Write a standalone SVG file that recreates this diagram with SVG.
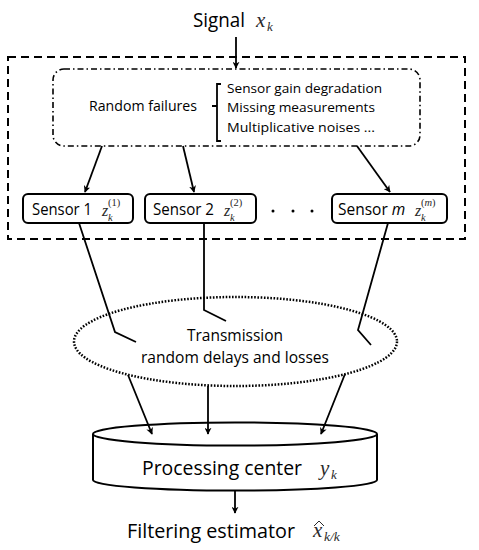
<svg xmlns="http://www.w3.org/2000/svg" width="479" height="550" viewBox="0 0 479 550">
<defs>
<marker id="ah" viewBox="0 0 10 10" refX="9" refY="5" markerWidth="7" markerHeight="7" orient="auto" markerUnits="userSpaceOnUse">
<path d="M0,0 L10,5 L0,10 L3,5 Z" fill="#000"/>
</marker>
<style>
.t{font-family:"Open Sans","Liberation Sans",sans-serif;fill:#000}
.m{font-family:"Liberation Serif","DejaVu Serif",serif;font-style:italic;fill:#2a2a2a}
.mu{font-family:"Liberation Serif","DejaVu Serif",serif;fill:#2a2a2a}
.ln{fill:none;stroke:#000;stroke-width:1.8}
.box{fill:#fff;stroke:#000;stroke-width:2}
</style>
</defs>
<rect width="479" height="550" fill="#fff"/>

<g id="signal">
<text class="t" x="193" y="27" font-size="20" textLength="52" lengthAdjust="spacingAndGlyphs">Signal</text>
<text class="m" x="256" y="27" font-size="21">x</text>
<text class="m" x="267" y="31" font-size="13">k</text>
</g>

<g id="sensor-group">
<rect x="8" y="57" width="457" height="182" fill="none" stroke="#000" stroke-width="2" stroke-dasharray="8,5"/>
</g>

<g id="random-failures">
<rect x="53" y="69" width="367" height="77" rx="11" fill="none" stroke="#000" stroke-width="1.6" stroke-dasharray="6,3,1.5,3"/>
<text class="t" x="89" y="111" font-size="14" textLength="108" lengthAdjust="spacingAndGlyphs">Random failures</text>
<path class="ln" d="M221,84 L217,84 L217,141 L221,141 M212,106 L217,106"/>
<text class="t" x="227" y="93" font-size="13.5" textLength="155" lengthAdjust="spacingAndGlyphs">Sensor gain degradation</text>
<text class="t" x="227" y="112" font-size="13.5" textLength="148" lengthAdjust="spacingAndGlyphs">Missing measurements</text>
<text class="t" x="227" y="132" font-size="13.5" textLength="148" lengthAdjust="spacingAndGlyphs">Multiplicative noises ...</text>
</g>

<g id="sensor1">
<rect class="box" x="23" y="194" width="110" height="29" rx="5"/>
<text class="t" x="32" y="215" font-size="15.5" textLength="60" lengthAdjust="spacingAndGlyphs">Sensor 1</text>
<text class="m" x="102" y="216" font-size="16">z</text>
<text class="m" x="108" y="221" font-size="10.5">k</text>
<text class="mu" x="108" y="206" font-size="10.5">(1)</text>
</g>

<g id="sensor2">
<rect class="box" x="145" y="194" width="111" height="29" rx="5"/>
<text class="t" x="153" y="215" font-size="15.5" textLength="61" lengthAdjust="spacingAndGlyphs">Sensor 2</text>
<text class="m" x="224" y="216" font-size="16">z</text>
<text class="m" x="230" y="221" font-size="10.5">k</text>
<text class="mu" x="230" y="206" font-size="10.5">(2)</text>
</g>

<g id="dots">
<circle cx="273" cy="211" r="1.5" fill="#000"/>
<circle cx="293" cy="211" r="1.5" fill="#000"/>
<circle cx="312" cy="211" r="1.5" fill="#000"/>
</g>

<g id="sensorm">
<rect class="box" x="332" y="194" width="115" height="29" rx="5"/>
<text class="t" x="338" y="215" font-size="15.5">Sensor <tspan font-style="italic">m</tspan></text>
<text class="m" x="415" y="216" font-size="16">z</text>
<text class="m" x="421" y="221" font-size="10.5">k</text>
<text class="mu" x="421" y="206" font-size="10.5">(<tspan font-style="italic">m</tspan>)</text>
</g>

<g id="transmission">
<ellipse cx="235.5" cy="341.5" rx="161.5" ry="44.5" fill="none" stroke="#000" stroke-width="2.5" stroke-dasharray="1.6,1.6"/>
<text class="t" x="235" y="341" font-size="15.5" text-anchor="middle">Transmission</text>
<text class="t" x="235" y="363" font-size="15.5" text-anchor="middle" textLength="188" lengthAdjust="spacingAndGlyphs">random delays and losses</text>
</g>

<g id="processing-center">
<path d="M93,434 L93,480 A142,10.5 0 0 0 377,480 L377,434" fill="#fff" stroke="#000" stroke-width="2"/>
<ellipse cx="235" cy="434" rx="142" ry="11.5" fill="#fff" stroke="#000" stroke-width="2"/>
<text class="t" x="142" y="475" font-size="20" textLength="160" lengthAdjust="spacingAndGlyphs">Processing center</text>
<text class="m" x="320" y="475" font-size="21">y</text>
<text class="m" x="331" y="479" font-size="13">k</text>
</g>

<g id="output">
<text class="t" x="127" y="538" font-size="20" textLength="168" lengthAdjust="spacingAndGlyphs">Filtering estimator</text>
<text class="m" x="313" y="537" font-size="21">x</text>
<path d="M314,526 L319,521 L324,526" fill="none" stroke="#2a2a2a" stroke-width="1"/>
<text class="m" x="324" y="541" font-size="13.5">k/k</text>
</g>

<g id="connectors">
<line class="ln" x1="236" y1="37" x2="236" y2="68" marker-end="url(#ah)"/>
<line class="ln" x1="102" y1="146" x2="85" y2="192" marker-end="url(#ah)"/>
<line class="ln" x1="183" y1="146" x2="194" y2="192" marker-end="url(#ah)"/>
<line class="ln" x1="357" y1="146" x2="390" y2="192" marker-end="url(#ah)"/>
<polyline class="ln" points="79,223 115,332 136,342"/>
<polyline class="ln" points="204,223 204,310 226,321"/>
<polyline class="ln" points="388,223 358,330 371,345"/>
<line class="ln" x1="128" y1="375" x2="152" y2="434" marker-end="url(#ah)"/>
<line class="ln" x1="208" y1="386" x2="208" y2="434" marker-end="url(#ah)"/>
<line class="ln" x1="345" y1="374" x2="321" y2="434" marker-end="url(#ah)"/>
<line class="ln" x1="235" y1="491" x2="235" y2="513" marker-end="url(#ah)"/>
</g>
</svg>
